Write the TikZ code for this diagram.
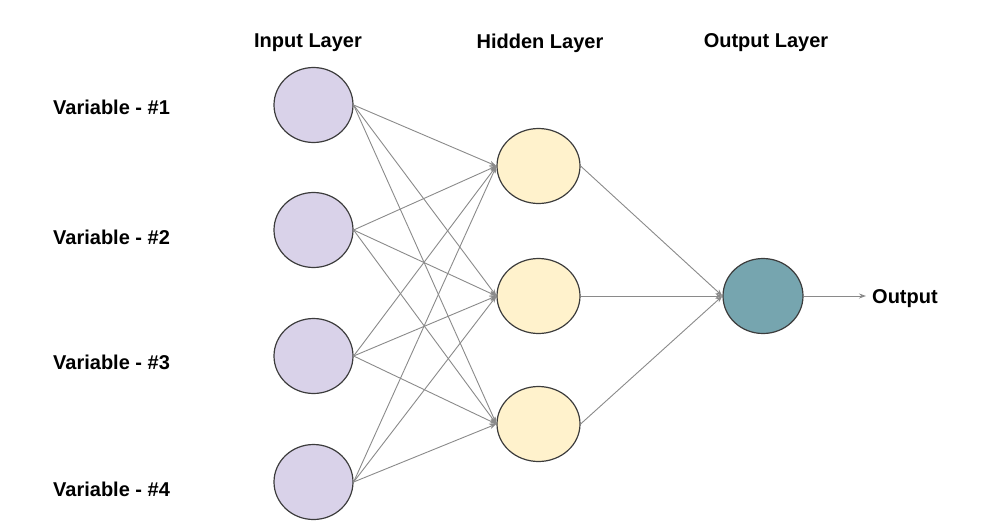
\documentclass[tikz,border=0pt]{standalone}
\usepackage{fontspec}
\setmainfont{Liberation Sans}
\usepackage{tikz}
\usetikzlibrary{arrows.meta,shapes.geometric}

\definecolor{inputfill}{HTML}{D9D2E9}
\definecolor{hiddenfill}{HTML}{FFF2CC}
\definecolor{outputfill}{HTML}{76A5AF}
\definecolor{rimgray}{HTML}{3C3C3C}
\definecolor{wiregray}{HTML}{8A8A8A}

\tikzset{
  neuron/.style={ellipse, draw=rimgray, line width=1.2pt, minimum width=79pt, minimum height=75pt, inner sep=0pt},
  wire/.style={draw=wiregray, line width=0.9pt, -{Stealth[length=7pt,width=5pt]}},
  lbl/.style={font=\fontsize{20}{24}\selectfont\bfseries, inner sep=0pt}
}

\begin{document}
\begin{tikzpicture}[x=1pt,y=-1pt]

 \useasboundingbox (0,0) rectangle (992,530);

 % layer titles
 \node[lbl] (tin) at (308,43) {Input Layer};
 \node[lbl] (thid) at (540,43) {Hidden Layer};
 \node[lbl] (tout) at (766,43) {Output Layer};

 % input layer
 \node[neuron, fill=inputfill] (i1) at (313.5,105) {};
 \node[neuron, fill=inputfill] (i2) at (313.5,230) {};
 \node[neuron, fill=inputfill] (i3) at (313.5,356) {};
 \node[neuron, fill=inputfill] (i4) at (313.5,482) {};
 \node[lbl, anchor=west] (v1) at (53,107) {Variable - \#1};
 \node[lbl, anchor=west] (v2) at (53,237) {Variable - \#2};
 \node[lbl, anchor=west] (v3) at (53,362) {Variable - \#3};
 \node[lbl, anchor=west] (v4) at (53,489) {Variable - \#4};

 % hidden layer
 \node[neuron, fill=hiddenfill, minimum width=83pt] (h1) at (538.5,166) {};
 \node[neuron, fill=hiddenfill, minimum width=83pt] (h2) at (538.5,296) {};
 \node[neuron, fill=hiddenfill, minimum width=83pt] (h3) at (538.5,424) {};

 % output layer
 \node[neuron, fill=outputfill, minimum width=80pt] (o1) at (763,296) {};
 \coordinate (oend) at (866,296);
 \node[lbl, anchor=west] (otxt) at (872,299) {Output};

 % input -> hidden
 \draw[wire] (i1.east) -- (h1.west);
 \draw[wire] (i1.east) -- (h2.west);
 \draw[wire] (i1.east) -- (h3.west);
 \draw[wire] (i2.east) -- (h1.west);
 \draw[wire] (i2.east) -- (h2.west);
 \draw[wire] (i2.east) -- (h3.west);
 \draw[wire] (i3.east) -- (h1.west);
 \draw[wire] (i3.east) -- (h2.west);
 \draw[wire] (i3.east) -- (h3.west);
 \draw[wire] (i4.east) -- (h1.west);
 \draw[wire] (i4.east) -- (h2.west);
 \draw[wire] (i4.east) -- (h3.west);

 % hidden -> output
 \draw[wire] (h1.east) -- (o1.west);
 \draw[wire] (h2.east) -- (o1.west);
 \draw[wire] (h3.east) -- (o1.west);
 \draw[wire] (o1.east) -- (oend);

\end{tikzpicture}
\end{document}
